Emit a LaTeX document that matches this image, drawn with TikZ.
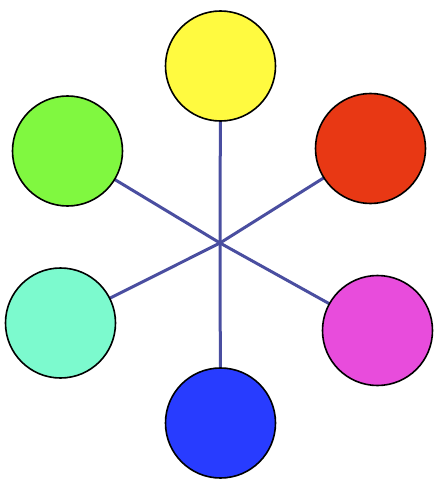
\documentclass[tikz,border=0pt]{standalone}
\begin{document}
\begin{tikzpicture}[x=1pt,y=-1pt,
  disc/.style={circle, draw=black, line width=1.6pt, minimum size=110pt, inner sep=0pt},
  spoke/.style={draw={rgb,255:red,74;green,78;blue,160}, line width=3pt}]
\useasboundingbox (0,0) rectangle (439,489);
\definecolor{cyel}{RGB}{255,250,64}
\definecolor{cred}{RGB}{232,56,20}
\definecolor{cmag}{RGB}{232,76,220}
\definecolor{cblu}{RGB}{40,60,255}
\definecolor{ccya}{RGB}{124,250,206}
\definecolor{cgrn}{RGB}{128,248,64}
\coordinate (c) at (220,243);
\coordinate (py) at (220.5,66);
\coordinate (pr) at (370.5,148.5);
\coordinate (pm) at (377.5,330.5);
\coordinate (pb) at (220.5,423);
\coordinate (pc) at (60.5,323);
\coordinate (pg) at (67.5,151);
\foreach \p in {py,pr,pm,pb,pc,pg} \draw[spoke] (c) -- (\p);
\node[disc, fill=cyel] (y) at (py) {};
\node[disc, fill=cred] (r) at (pr) {};
\node[disc, fill=cmag] (m) at (pm) {};
\node[disc, fill=cblu] (b) at (pb) {};
\node[disc, fill=ccya] (cy) at (pc) {};
\node[disc, fill=cgrn] (g) at (pg) {};
\end{tikzpicture}
\end{document}
